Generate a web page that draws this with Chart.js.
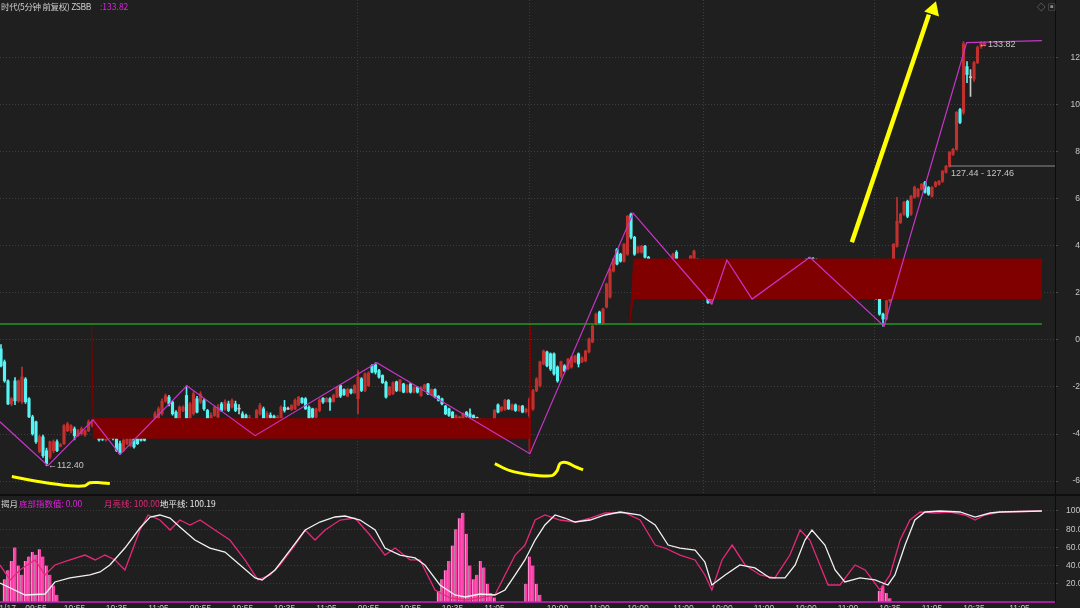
<!DOCTYPE html>
<html><head><meta charset="utf-8">
<script src="https://cdn.jsdelivr.net/npm/chart.js@4/dist/chart.umd.min.js"></script>
<style>
html,body{margin:0;padding:0;background:#1f1f1f;width:1080px;height:608px;overflow:hidden;}
#main{position:absolute;left:0;top:0;}
#sub{position:absolute;left:0;top:496px;}
.sep{position:absolute;left:0;top:494px;width:1080px;height:2px;background:#0e0e0e;}
.t{position:absolute;font-family:"Noto Sans CJK SC","Liberation Sans",sans-serif;font-size:8.5px;white-space:nowrap;line-height:11px;}
</style></head><body>
<canvas id="main" width="1080" height="494"></canvas>
<div class="sep"></div>
<canvas id="sub" width="1080" height="120"></canvas>
<div class="t" style="left:1px;top:1px;color:#cfcfcf;letter-spacing:-0.3px">时代(5分钟 前复权) ZSBB</div>
<div class="t" style="left:100px;top:1px;color:#e020e0">:133.82</div>
<div class="t" style="left:1037px;top:1px;color:#8a8a8a">◇ ▣</div>
<div class="t" style="left:1px;top:498px;color:#cfcfcf">揭月</div>
<div class="t" style="left:19px;top:498px;color:#e020e0">底部指数值: 0.00</div>
<div class="t" style="left:104px;top:498px;color:#e6287a">月亮线: 100.00</div>
<div class="t" style="left:160px;top:498px;color:#e8e8e8">地平线: 100.19</div>
<script>
// ---------- data (percent change axis) ----------
const OPEN = [
-0.38,-0.93,-1.74,-2.72,-1.74,-2.59,-2.63,-1.66,-2.50,-3.27,
-3.48,-4.75,-4.12,-4.71,-4.97,-4.71,-4.33,-4.52,-4.41,-3.86,
-3.86,-3.78,-4.07,-3.99,-4.03,-3.86,-3.6,-3.5,-4.12,-4.15,
-4.25,-4.1,-4.12,-4.2,-4.41,-4.7,-4.41,-4.49,-4.2,-4.13,
-4.13,-4.13,-4.0,-3.7,-3.35,-3.35,-3.14,-2.6,-2.43,-2.64,
-3.07,-3.35,-3.0,-2.36,-3.35,-3.14,-2.5,-2.64,-2.58,-3.0,
-3.35,-3.21,-3.28,-2.72,-2.93,-2.72,-2.86,-2.72,-2.9,-3.14,
-3.21,-3.6,-3.4,-3.5,-3.14,-2.93,-3.35,-3.2,-3.24,-3.35,
-3.35,-2.86,-2.9,-2.96,-2.93,-2.76,-2.48,-2.5,-2.86,-2.93,
-3.28,-3.0,-2.48,-2.62,-2.5,-2.62,-2.43,-1.94,-2.11,-2.39,
-2.11,-2.25,-2.5,-1.65,-2.15,-1.94,-1.09,-1.05,-1.30,-1.51,
-1.80,-2.33,-2.29,-1.78,-2.15,-1.87,-2.22,-1.87,-2.22,-2.01,
-2.36,-2.08,-1.87,-2.33,-2.11,-2.39,-2.5,-2.81,-2.93,-3.07,
-3.35,-3.4,-3.35,-3.07,-3.14,-3.21,-3.3,-3.4,-3.6,-3.8,
-3.6,-3.35,-2.76,-3.0,-2.96,-2.57,-2.96,-2.76,-3.0,-2.81,
-3.05,-3.23,-2.93,-2.16,-1.95,-1.02,-0.51,-0.59,-0.59,-1.15,
-1.53,-1.10,-1.23,-1.15,-0.93,-0.59,-0.93,-0.89,-0.51,-0.08,
0.68,1.19,0.72,1.40,1.83,2.93,3.86,3.65,3.35,3.65,
5.35,4.37,3.73,3.73,3.99,3.52,3.4,3.1,3.2,2.9,
3.1,3.3,3.44,3.73,3.3,3.1,3.2,3.44,3.44,3.4,
2.9,2.2,1.74,1.56,1.9,2.4,2.9,3.2,3.0,2.8,
2.6,2.7,2.4,2.1,1.9,2.0,2.2,2.1,2.4,2.5,
2.3,2.6,2.7,2.6,2.9,2.8,3.0,3.1,3.0,3.2,
3.3,3.50,3.48,3.40,3.25,3.1,3.15,2.95,2.8,2.9,
2.65,2.5,2.55,2.35,2.2,2.25,2.05,1.9,1.95,1.85,
1.8,1.74,1.10,0.89,1.66,3.44,3.99,5.0,5.35,5.90,
5.35,6.07,6.11,6.41,6.70,6.49,6.11,6.54,6.62,6.75,
7.13,7.39,7.89,8.11,9.80,9.68,11.63,11.2,11.1,11.8,
12.48,12.56];
const HIGH = [
-0.2,-0.85,-1.7,-2.45,-1.6,-1.7,-1.15,-1.6,-2.45,-3.2,
-3.45,-4.05,-4.05,-4.6,-4.3,-4.25,-4.25,-4.4,-3.6,-3.5,
-3.6,-3.7,-3.8,-3.7,-3.82,-3.4,-3.40,-3.45,-3.9,-4.0,
-4.0,-3.9,-4.0,-4.0,-4.3,-4.2,-4.0,-4.1,-4.1,-4.0,
-4.0,-4.0,-3.6,-3.35,-3.05,-2.85,-2.5,-2.3,-2.35,-2.6,
-3.0,-2.8,-2.8,-1.95,-2.65,-2.2,-2.4,-2.2,-2.5,-2.95,
-3.1,-2.8,-2.75,-2.65,-2.55,-2.6,-2.5,-2.6,-2.75,-3.05,
-3.15,-3.2,-3.35,-2.95,-2.7,-2.85,-3.05,-3.1,-3.2,-3.2,
-2.8,-2.57,-2.85,-2.75,-2.5,-2.4,-2.45,-2.45,-2.8,-2.9,
-2.9,-2.5,-2.45,-2.45,-2.45,-2.3,-1.97,-1.9,-2.08,-2.05,
-2.08,-1.9,-1.30,-1.6,-1.4,-1.35,-1.05,-0.97,-1.25,-1.48,
-1.75,-1.97,-1.78,-1.75,-1.68,-1.84,-1.9,-1.84,-1.98,-1.98,
-1.98,-1.88,-1.84,-2.08,-2.08,-2.36,-2.47,-2.78,-2.9,-3.04,
-3.18,-3.25,-3.1,-3.04,-2.93,-3.18,-3.28,-3.35,-3.5,-3.5,
-3.35,-2.95,-2.72,-2.83,-2.53,-2.53,-2.72,-2.72,-2.78,-2.78,
-2.9,-2.45,-2.1,-1.6,-0.9,-0.43,-0.47,-0.55,-0.55,-1.1,
-0.9,-1.05,-0.78,-0.7,-0.65,-0.55,-0.72,-0.44,0.08,0.63,
1.14,1.23,1.36,2.42,3.05,3.48,3.90,3.69,4.11,5.3,
5.40,4.41,3.99,4.03,4.03,3.56,3.42,3.3,3.3,3.2,
3.4,3.45,3.7,3.80,3.4,3.35,3.4,3.6,3.82,3.45,
3.0,2.3,1.8,1.9,2.5,3.0,3.3,3.40,3.1,2.9,
2.8,2.75,2.5,2.2,2.1,2.3,2.3,2.5,2.6,2.6,
2.7,2.8,2.8,3.0,3.0,3.1,3.2,3.2,3.3,3.4,
3.45,3.52,3.5,3.45,3.3,3.2,3.2,3.0,2.95,2.95,
2.7,2.6,2.6,2.4,2.3,2.3,2.1,2.0,2.0,1.95,
1.9,1.78,1.14,1.70,3.4,4.1,6.07,5.4,5.9,5.95,
6.15,6.55,6.45,6.66,6.75,6.53,6.53,6.75,6.79,7.22,
7.43,8.02,8.15,9.72,9.85,12.69,11.84,11.5,11.85,12.5,
12.69,12.69];
const LOW = [
-1.15,-1.8,-2.75,-2.8,-2.75,-2.65,-2.7,-2.7,-3.3,-4.05,
-4.4,-4.8,-5.0,-5.35,-5.05,-4.8,-4.75,-4.55,-4.45,-3.9,
-3.95,-4.25,-4.1,-4.05,-4.1,-3.9,-3.7,-4.0,-4.3,-4.28,
-4.3,-4.2,-4.25,-4.75,-4.87,-4.75,-4.45,-4.55,-4.6,-4.45,
-4.3,-4.3,-4.05,-3.75,-3.4,-3.4,-3.2,-2.65,-2.8,-3.2,
-3.45,-3.4,-3.05,-3.4,-3.4,-3.2,-3.1,-2.7,-3.0,-3.4,
-3.4,-3.25,-3.3,-3.05,-3.0,-3.05,-2.9,-3.05,-3.15,-3.4,
-3.5,-3.7,-4.07,-3.6,-3.2,-3.4,-3.45,-3.5,-3.45,-3.5,
-3.4,-3.07,-2.96,-3.0,-2.96,-2.8,-2.7,-2.96,-3.4,-3.35,
-3.32,-3.05,-2.7,-2.65,-3.0,-2.65,-2.45,-2.45,-2.36,-2.42,
-2.3,-2.28,-3.14,-2.2,-2.2,-1.98,-1.4,-1.45,-1.62,-1.85,
-2.48,-2.36,-2.33,-2.2,-2.2,-2.25,-2.25,-2.26,-2.25,-2.26,
-2.4,-2.12,-2.33,-2.36,-2.46,-2.6,-2.76,-3.18,-3.25,-3.4,
-3.4,-3.45,-3.4,-3.28,-3.32,-3.4,-3.45,-3.7,-3.9,-3.9,
-3.7,-3.45,-3.1,-3.04,-3.0,-2.96,-3.0,-3.04,-3.04,-3.1,
-3.1,-4.84,-3.0,-2.2,-2.0,-1.06,-1.15,-1.3,-1.5,-1.8,
-1.6,-1.35,-1.27,-1.2,-0.97,-1.15,-0.97,-0.93,-0.55,-0.12,
0.64,0.68,0.68,1.36,1.78,2.89,3.19,3.31,3.31,3.6,
4.3,3.6,3.69,3.69,3.48,3.35,3.0,3.0,2.8,2.85,
3.0,3.2,3.35,3.35,3.0,3.0,3.1,3.35,3.4,2.8,
2.2,1.8,1.56,1.53,1.85,2.3,2.8,2.9,2.7,2.5,
2.5,2.3,2.0,1.85,1.76,1.95,2.0,2.05,2.3,2.2,
2.25,2.5,2.5,2.55,2.7,2.75,2.9,2.9,2.95,3.1,
3.2,3.3,3.3,3.2,3.0,2.9,2.9,2.7,2.7,2.6,
2.4,2.35,2.3,2.1,2.05,2.0,1.85,1.8,1.78,1.76,
1.74,1.05,0.59,0.85,1.6,3.4,3.95,4.95,5.3,5.2,
5.3,6.03,6.07,6.37,6.24,6.15,6.07,6.5,6.58,6.7,
7.1,7.35,7.85,8.07,9.2,9.6,10.95,10.36,11.0,11.75,
12.4,12.5];
const CLOSE = [
-1.10,-1.74,-2.72,-2.50,-2.59,-1.74,-1.57,-2.63,-3.27,-3.99,
-4.33,-4.12,-4.92,-5.26,-4.33,-4.33,-4.71,-4.45,-3.65,-3.57,
-3.65,-4.07,-3.86,-3.78,-3.86,-3.48,-3.5,-3.9,-4.25,-4.22,
-4.12,-4.15,-4.2,-4.7,-4.84,-4.27,-4.13,-4.2,-4.55,-4.41,
-4.27,-4.27,-3.7,-3.4,-3.14,-2.93,-2.6,-2.38,-2.72,-3.14,
-3.35,-2.86,-2.86,-3.35,-2.72,-2.29,-3.07,-2.29,-2.93,-3.35,
-3.21,-2.86,-2.86,-3.0,-2.64,-3.0,-2.58,-3.0,-2.9,-3.35,
-3.45,-3.3,-3.9,-3.0,-2.79,-3.35,-3.14,-3.3,-3.35,-3.28,
-2.86,-3.0,-2.9,-2.79,-2.57,-2.43,-2.67,-2.93,-3.35,-3.28,
-2.93,-2.55,-2.64,-2.48,-2.64,-2.36,-2.01,-2.39,-2.33,-2.11,
-2.25,-1.94,-1.58,-2.15,-1.44,-1.40,-1.37,-1.37,-1.58,-1.82,
-2.43,-2.01,-1.82,-2.15,-1.70,-2.22,-1.94,-2.22,-2.01,-2.22,
-2.01,-1.91,-2.29,-2.11,-2.43,-2.57,-2.72,-3.14,-3.21,-3.35,
-3.21,-3.28,-3.14,-3.24,-3.28,-3.35,-3.38,-3.6,-3.8,-3.6,
-3.4,-3.0,-3.07,-2.86,-2.57,-2.93,-2.76,-3.0,-2.81,-3.07,
-2.95,-2.50,-2.16,-1.66,-0.93,-0.47,-1.10,-1.23,-1.44,-1.74,
-0.93,-1.32,-0.81,-0.72,-0.68,-1.02,-0.76,-0.47,0.04,0.59,
1.10,0.72,1.32,2.38,3.01,3.44,3.23,3.35,4.07,5.26,
4.37,3.65,3.95,3.99,3.52,3.44,3.1,3.2,2.9,3.1,
3.3,3.4,3.65,3.44,3.1,3.2,3.3,3.57,3.78,2.9,
2.3,1.9,1.58,1.74,2.4,2.9,3.2,3.0,2.8,2.6,
2.7,2.4,2.1,1.9,2.0,2.2,2.1,2.4,2.5,2.3,
2.6,2.7,2.6,2.9,2.8,3.0,3.1,3.0,3.2,3.3,
3.25,3.44,3.40,3.25,3.1,3.15,2.95,2.8,2.9,2.65,
2.5,2.55,2.35,2.2,2.25,2.05,1.9,1.95,1.85,1.8,
1.76,1.10,0.89,1.66,3.3,4.07,5.05,5.35,5.86,5.26,
6.11,6.49,6.41,6.62,6.28,6.20,6.49,6.70,6.75,7.17,
7.39,7.98,8.11,9.68,9.25,12.6,11.29,11.2,11.8,12.44,
12.65,12.65];

const Y_TICKS = [-6,-4,-2,0,2,4,6,8,10,12];
const DAY_BREAKS = [101.8,151.1,200.6,249.7];

const ZIG_X = [-0.3,13.4,26.3,34,53.1,72.6,107.4,151.1,180.6,203.1,207.4,214.6,231.1,252.3,275.9,297.4];
const ZIG_Y = [-3.48,-5.35,-3.40,-4.87,-1.95,-4.07,-0.97,-4.84,5.40,1.53,3.40,1.74,3.52,0.59,12.65,12.73];

const SUPPORT_X = [-0.3,297.4];
const SUPPORT_Y = [0.68,0.68];

const BOX1_X = [25.9,26.3,151.1];
const BOX1_TOP = [0.68,-3.35,-3.35];
const BOX1_BOT = [0.68,-4.20,-4.20];
const BOX1_EDGE_X = [151.2,151.2];
const BOX1_EDGE_Y = [0.68,-4.84];
const BOX2_X = [179.7,180.8,297.4];
const BOX2_TOP = [0.68,3.44,3.44];
const BOX2_BOT = [0.68,1.74,1.74];

const MARK_X = [271.1,301.2];
const MARK_Y = [7.40,7.40];

const NOTE_TEXT = ['←112.40','←133.82','127.44 - 127.46'];
const NOTE_X = [13.4,279.4,271.4];
const NOTE_Y = [-5.35,12.56,7.09];

const YEL1_X = [3.1,11.1,19.7,24.0,25.4,28.3,31.1];
const YEL1_Y = [-5.81,-6.03,-6.20,-6.20,-6.07,-6.07,-6.11];
const YEL2_X = [141.1,145.4,151.1,157.4,158.9,159.7,161.7,164.0,166.3];
const YEL2_Y = [-5.26,-5.56,-5.73,-5.77,-5.56,-5.26,-5.22,-5.39,-5.52];
const ARROW_X = [243.1,265.1];
const ARROW_Y = [4.16,13.84];
const ARROW_HEAD_X = [266.3];
const ARROW_HEAD_Y = [14.05];

// indicator panel
const BOTTOM_IDX = [1,2,3,4,5,6,7,8,9,10,11,12,13,14,15,16,
  125,126,127,128,129,130,131,132,133,134,135,136,137,138,139,140,141,
  150,151,152,153,154, 251,252,253,254];
const BOTTOM_VAL = [25,35,45,60,40,30,45,50,55,52,58,50,40,30,18,8,
  12,25,35,45,62,80,92,98,75,40,25,30,45,38,20,10,5,
  20,50,40,20,8, 12,18,10,4];

const HORIZON_X = [-0.3,6.9,12.6,15.4,19.7,25.4,28.3,31.1,35.4,39.7,42.6,45.4,48.3,51.1,55.4,59.7,64,68.3,72.6,74.6,78.3,82.6,86.9,91.1,95.4,98.3,102.6,106.9,109.7,114,118.3,121.1,125.4,129.7,132.6,136.9,141.1,144,146.9,149.7,152.6,155.4,158.3,161.1,164,168.3,172.6,176.9,182.6,186.9,190.6,194,198.3,201.1,203.1,206.9,211.1,215.4,219.7,224,226.9,229.7,231.7,235.4,238.3,241.1,245.4,249.7,253.4,255.4,258.3,261.1,264,268.3,274,278.3,282.6,285.4,297.4];
const HORIZON_Y = [20.9,7.7,8.8,22,26.4,29.7,33,40.7,59.3,81.3,93.4,95.6,92.3,82.4,68.1,59.3,54.9,40.7,26.4,24.2,35.2,57.1,79.1,87.9,93.4,94.5,90.1,79.1,59.3,51.6,48.4,40.7,18.7,7.7,5.5,8.8,7.7,13.2,29.7,46.2,68.1,84.6,95.6,92.3,87.9,90.1,95.6,98.9,95.6,84.6,62.6,59.3,57.1,44,18.7,29.7,40.7,37.4,26.4,26.4,40.7,68.1,79.1,62.6,35.2,22,26.4,24.2,18.7,29.7,62.6,90.1,98.9,100,98.9,93.4,97.8,98.9,100];
const MOON_X = [-0.3,2.6,5.4,9.7,12.6,15.4,19.7,24,26.9,29.7,32.6,35.4,39.7,42,45.4,48.3,51.1,54,56.9,61.1,65.4,69.7,73.4,76.9,79.7,84,86.9,89.7,92.6,96.9,101.1,105.4,109.7,112.6,116.9,119.7,124,128.3,132.6,136.9,141.1,144,146.9,149.7,152.6,155.4,159.7,164,168.3,172.6,178.3,182.6,186.9,189.7,194,198.3,201.1,203.1,206,208.9,212.6,216.9,221.1,225.4,228.3,231.1,233.4,236.3,239.7,244,246.9,251.1,254,256.9,259.7,262.6,266.9,271.1,275.4,278.3,281.1,285.4,297.4];
const MOON_Y = [40.7,24.2,35.2,46.2,29.7,40.7,46.2,51.6,46.2,51.6,46.2,35.2,79.1,95.6,90.1,79.1,90.1,84.6,90.1,79.1,68.1,46.2,24.2,29.7,40.7,62.6,79.1,68.1,79.1,90.1,92.3,73.6,51.6,59.3,46.2,46.2,13.2,4.4,2.2,4.4,7.7,29.7,51.6,62.6,90.1,95.6,90.1,87.9,92.3,97.8,97.8,90.1,62.6,59.3,51.6,46.2,29.7,13.2,46.2,62.6,40.7,29.7,26.4,51.6,79.1,68.1,46.2,18.7,18.7,40.7,35.2,13.2,29.7,68.1,90.1,98.9,97.8,98.9,95.6,90.1,95.6,98.9,100];

const OSC_TICKS = [20,40,60,80,100];
const OSC_TICK_LABELS = ['20.0','40.0','60.0','80.0','100.0'];
const TIME_POS = [1.3,10,21,33,45,57,69,81,93,105,117,129,141,159,171,182,195,206,218,230,242,254,266,278,291];
const TIME_LABELS = ['11/17','09:55','10:55','10:35','11:05','09:55','10:55','10:35','11:05','09:55','10:55','10:35','11:05','10:00','11:00','10:00','11:00','10:00','11:00','10:00','11:00','10:35','11:05','10:35','11:05'];

// ---------- styling ----------
const UP = '#c0302e', DOWN = '#56f4f4', FLAT = '#c8c8c8';
const X_MIN = -0.286, X_MAX = 301.14;
const FONT = {family:'"Liberation Sans", Arial, sans-serif', size: 8.5};
Chart.defaults.font.family = FONT.family;

const pts = (xs, ys) => xs.map((x, k) => ({x, y: ys[k]}));
const idx = OPEN.map((_, i) => i);
const cColor = idx.map(i => CLOSE[i] > OPEN[i] ? UP : (CLOSE[i] < OPEN[i] ? DOWN : FLAT));

const lineDs = (data, color, width, order, extra) => Object.assign({
  type: 'line', data, borderColor: color, borderWidth: width, pointRadius: 0,
  tension: 0, fill: false, order
}, extra || {});

const notesPlugin = {
  id: 'notes',
  afterDatasetsDraw(chart) {
    const {ctx, scales: {x, y}} = chart;
    ctx.save();
    ctx.font = '9px "Liberation Sans", Arial, sans-serif';
    ctx.fillStyle = '#c4c4c4';
    ctx.textBaseline = 'middle';
    ctx.textAlign = 'left';
    NOTE_TEXT.forEach((t, k) => ctx.fillText(t, x.getPixelForValue(NOTE_X[k]), y.getPixelForValue(NOTE_Y[k])));
    ctx.restore();
  }
};

new Chart(document.getElementById('main'), {
  type: 'bar',
  data: {
    datasets: [
      {type:'bar', data: idx.map(i => ({x:i, y:[LOW[i], HIGH[i]]})), backgroundColor: cColor,
        barThickness: 1, grouped: false, order: 10},
      {type:'bar', data: idx.map(i => ({x:i, y:[OPEN[i], CLOSE[i]]})), backgroundColor: cColor,
        barThickness: 2.5, minBarLength: 1, grouped: false, order: 9},
      lineDs(pts(BOX1_X, BOX1_TOP), '#800000', 1, 5, {fill: '+1', backgroundColor: '#800000'}),
      lineDs(pts(BOX1_X, BOX1_BOT), '#800000', 0, 5),
      lineDs(pts(BOX1_EDGE_X, BOX1_EDGE_Y), '#800000', 1.5, 5),
      lineDs(pts(BOX2_X, BOX2_TOP), '#800000', 1, 5, {fill: '+1', backgroundColor: '#800000'}),
      lineDs(pts(BOX2_X, BOX2_BOT), '#800000', 0, 5),
      lineDs(pts(SUPPORT_X, SUPPORT_Y), '#229b22', 1.3, 4),
      lineDs(pts(MARK_X, MARK_Y), '#8c8c8c', 1, 3),
      lineDs(pts(ZIG_X, ZIG_Y), '#c835c8', 1.2, 2),
      lineDs(pts(YEL1_X, YEL1_Y), '#ffff00', 3, 1, {tension: 0.3}),
      lineDs(pts(YEL2_X, YEL2_Y), '#ffff00', 3, 1, {tension: 0.3}),
      lineDs(pts(ARROW_X, ARROW_Y), '#ffff00', 4.5, 1, {clip: false}),
      lineDs(pts(ARROW_HEAD_X, ARROW_HEAD_Y), '#ffff00', 0, 1, {clip: false, pointRadius: 9,
        pointStyle: 'triangle', rotation: 19, pointBackgroundColor: '#ffff00', pointBorderWidth: 0})
    ]
  },
  options: {
    responsive: false, animation: false, events: [], devicePixelRatio: 1,
    layout: {padding: 0, autoPadding: false},
    plugins: {legend: {display: false}, tooltip: {enabled: false}},
    scales: {
      x: {
        type: 'linear', min: X_MIN, max: X_MAX, offset: false,
        ticks: {display: false},
        grid: {display: true, color: '#3e3e3e', drawTicks: false, offset: false},
        border: {display: false, dash: [1, 2]},
        afterBuildTicks: s => { s.ticks = DAY_BREAKS.map(v => ({value: v})); },
        afterFit: s => { s.height = 0; s.paddingLeft = 0; s.paddingRight = 0; }
      },
      y: {
        position: 'right', min: -6.552, max: 14.462,
        ticks: {color: '#c8c8c8', font: FONT, crossAlign: 'far', padding: 9, autoSkip: false},
        grid: {color: '#3e3e3e', tickColor: '#4a4a4a', tickLength: 3, drawTicks: true},
        border: {display: true, color: '#0c0c0c', width: 1, dash: [1, 2]},
        afterBuildTicks: s => { s.ticks = Y_TICKS.map(v => ({value: v})); },
        afterFit: s => { s.width = 25; s.paddingTop = 0; s.paddingBottom = 0; }
      }
    }
  },
  plugins: [notesPlugin]
});

new Chart(document.getElementById('sub'), {
  type: 'bar',
  data: {
    datasets: [
      {type:'bar', data: pts(BOTTOM_IDX, BOTTOM_VAL), backgroundColor: '#ff3aa8',
        borderColor: '#ffaedc', borderWidth: {left: 1, right: 0, top: 0, bottom: 0}, borderSkipped: false,
        barThickness: 3, grouped: false, order: 5},
      lineDs(pts([X_MIN, X_MAX], [0, 0]), '#c822c8', 1.6, 4),
      lineDs(pts(MOON_X, MOON_Y), '#e6287a', 1.3, 2),
      lineDs(pts(HORIZON_X, HORIZON_Y), '#f2f2f2', 1.3, 1)
    ]
  },
  options: {
    responsive: false, animation: false, events: [], devicePixelRatio: 1,
    layout: {padding: 0, autoPadding: false},
    plugins: {legend: {display: false}, tooltip: {enabled: false}},
    scales: {
      x: {
        type: 'linear', min: X_MIN, max: X_MAX, offset: false,
        ticks: {color: '#c8c8c8', font: FONT, padding: 1, autoSkip: false, maxRotation: 0,
          callback: (v, k) => TIME_LABELS[k]},
        grid: {display: false, drawTicks: false},
        border: {display: false},
        afterBuildTicks: s => { s.ticks = TIME_POS.map(v => ({value: v})); },
        afterFit: s => { s.height = 13; s.paddingLeft = 0; s.paddingRight = 0; }
      },
      y: {
        position: 'right', min: -1.1, max: 116.48,
        ticks: {color: '#c8c8c8', font: FONT, crossAlign: 'near', padding: 8, autoSkip: false,
          callback: (v, k) => OSC_TICK_LABELS[k]},
        grid: {color: '#3a3a3a', tickColor: '#4a4a4a', tickLength: 3},
        border: {display: true, color: '#0c0c0c', width: 1, dash: [1, 2]},
        afterBuildTicks: s => { s.ticks = OSC_TICKS.map(v => ({value: v})); },
        afterFit: s => { s.width = 25; s.paddingTop = 0; s.paddingBottom = 0; }
      }
    }
  }
});
</script>
</body></html>
